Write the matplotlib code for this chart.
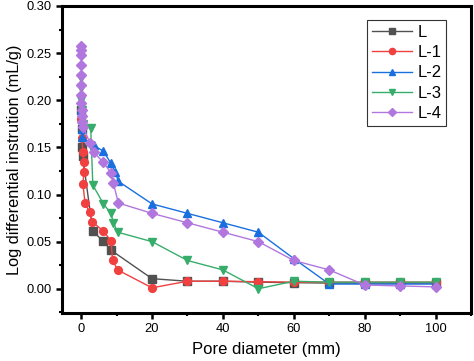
import matplotlib
matplotlib.use("Agg")
import matplotlib.pyplot as plt
from matplotlib.ticker import MultipleLocator

plt.rcParams['font.family'] = ['Liberation Sans', 'DejaVu Sans']

# pore size distribution data
x_L = [0.1, 0.2, 0.3, 0.4, 3.3, 6.1, 8.4, 20, 30, 40, 50, 60, 70, 80, 90, 100]
y_L = [0.19, 0.17, 0.15, 0.141, 0.061, 0.051, 0.041, 0.0107, 0.008, 0.008, 0.007, 0.0065, 0.006, 0.006, 0.006, 0.006]

x_L1 = [0.1, 0.2, 0.5, 0.7, 0.8, 0.5, 1.1, 2.4, 3.2, 6.3, 8.4, 8.9, 10.3, 20, 30, 40, 50, 60, 70, 80, 90, 100]
y_L1 = [0.18, 0.16, 0.145, 0.134, 0.124, 0.111, 0.091, 0.081, 0.071, 0.061, 0.051, 0.030, 0.020, 0.001,
        0.008, 0.008, 0.0075, 0.007, 0.007, 0.007, 0.007, 0.007]

x_L2 = [0.0, 0.1, 0.2, 0.3, 0.2, 3.5, 6.3, 8.4, 9.6, 10.5, 20, 30, 40, 50, 60, 70, 80, 90, 100]
y_L2 = [0.20, 0.19, 0.18, 0.17, 0.161, 0.152, 0.146, 0.133, 0.124, 0.114, 0.09, 0.08, 0.07, 0.06, 0.032,
        0.005, 0.005, 0.005, 0.005]

x_L3 = [0.0, 0.1, 0.1, 0.2, 0.3, 0.5, 2.7, 3.3, 6.3, 8.4, 9.1, 10.3, 20, 30, 40, 50, 60, 70, 80, 90, 100]
y_L3 = [0.224, 0.213, 0.20, 0.19, 0.18, 0.175, 0.171, 0.110, 0.09, 0.08, 0.07, 0.06, 0.05, 0.03, 0.02, 0.0,
        0.008, 0.007, 0.007, 0.007, 0.007]

x_L4 = [0.1, 0.1, 0.1, 0.1, 0.1, 0.1, 0.1, 0.1, 0.2, 0.2, 0.3, 0.6, 2.4, 3.5, 6.3, 8.4, 9.1, 10.5,
        20, 30, 40, 50, 60, 70, 80, 90, 100]
y_L4 = [0.258, 0.253, 0.248, 0.237, 0.227, 0.216, 0.206, 0.197, 0.19, 0.183, 0.177, 0.172, 0.155, 0.145,
        0.134, 0.123, 0.112, 0.091, 0.08, 0.07, 0.06, 0.05, 0.03, 0.02, 0.004, 0.003, 0.002]

series = [
    (x_L, y_L, 'L', '#515151', 's'),
    (x_L1, y_L1, 'L-1', '#F14040', 'o'),
    (x_L2, y_L2, 'L-2', '#1A6FDF', '^'),
    (x_L3, y_L3, 'L-3', '#37AD6B', 'v'),
    (x_L4, y_L4, 'L-4', '#B177DE', 'D'),
]

fig = plt.figure(figsize=(4.74, 3.61), dpi=100)
ax = fig.add_axes([0.1308, 0.133, 0.8629, 0.8504])

for x, y, lab, c, m in series:
    ms = 4.8 if m == 'D' else 5.6
    ax.plot(x, y, color=c, marker=m, markersize=ms, linewidth=1, label=lab)

ax.set_xlim(-5.4, 110)
ax.set_ylim(-0.0257, 0.30)
ax.xaxis.set_major_locator(MultipleLocator(20))
ax.xaxis.set_minor_locator(MultipleLocator(10))
ax.yaxis.set_major_locator(MultipleLocator(0.05))
ax.yaxis.set_minor_locator(MultipleLocator(0.025))
ax.yaxis.set_major_formatter(matplotlib.ticker.FormatStrFormatter('%.2f'))

for s in ax.spines.values():
    s.set_linewidth(2.2)
ax.tick_params(which='major', direction='out', length=4, width=1.8, labelsize=9.3)
ax.tick_params(which='minor', direction='out', length=2.5, width=1.5)

ax.set_xlabel('Pore diameter (mm)', fontsize=12, labelpad=5)
ax.set_ylabel('Log differential instrution (mL/g)', fontsize=11.8, labelpad=3)

leg = ax.legend(loc='upper right', bbox_to_anchor=(0.94, 0.955), fontsize=12, fancybox=False,
                handlelength=2.4, labelspacing=0.32, borderpad=0.3, handletextpad=0.3,
                borderaxespad=0, markerscale=0.8, edgecolor='#333333', framealpha=1)
leg.get_frame().set_linewidth(0.8)

fig.savefig("out.png", dpi=100)
